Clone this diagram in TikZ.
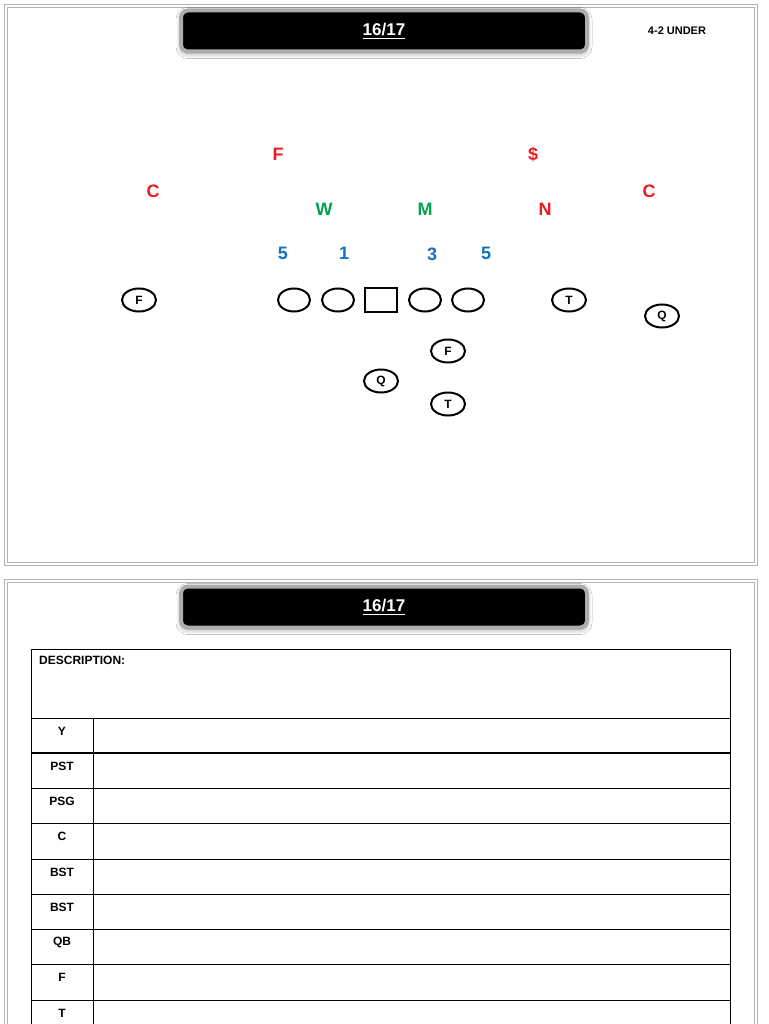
\documentclass[tikz,border=0pt]{standalone}
\usepackage{fontspec}
\setmainfont{Liberation Sans}
\usetikzlibrary{positioning,shapes.geometric,shadows.blur}
\definecolor{dred}{RGB}{236,28,36}
\definecolor{dgreen}{RGB}{0,163,80}
\definecolor{dblue}{RGB}{20,112,192}
\tikzset{
	panel/.style={draw=gray!60, double, double distance=1.5pt, line width=1.1pt},
	header/.style={fill=black, draw=gray!65, line width=4pt, rounded corners=7pt,
			minimum width=406, minimum height=41, text=white,
			font=\bfseries\fontsize{17}{17}\selectfont,
			blur shadow={shadow xshift=0pt, shadow yshift=-2pt, shadow blur steps=8, shadow blur radius=5pt}},
	defense/.style={font=\bfseries\fontsize{18}{18}\selectfont, inner sep=0pt},
	lineman/.style={ellipse, draw, line width=2pt, minimum width=32, minimum height=23, inner sep=0pt},
	back/.style={ellipse, draw, line width=2pt, minimum width=34, minimum height=23, inner sep=0pt,
			font=\bfseries\fontsize{12}{12}\selectfont},
	rowlabel/.style={font=\bfseries\fontsize{12}{12}\selectfont, inner sep=0pt}
}

\begin{document}
\begin{tikzpicture}[x=1pt, y=-1pt]
	\useasboundingbox[fill=white] (0,0) rectangle (768,1024);

	% top panel
	\draw[panel] (6,6) rectangle (756,564);
	\node[header] (title1) at (384,31) {\underline{16/17}};
	\node[font=\bfseries\fontsize{11}{11}\selectfont] (front) at (677,31) {4-2 UNDER};

	\node[defense, text=dred] (fs) at (278,154) {F};
	\node[defense, text=dred] (ss) at (533,154) {\$};
	\node[defense, text=dred] (lc) at (153,191) {C};
	\node[defense, text=dred] (rc) at (649,191) {C};
	\node[defense, text=dred] (nb) at (545,209) {N};
	\node[defense, text=dgreen] (wl) at (324,209) {W};
	\node[defense, text=dgreen] (ml) at (425,209) {M};
	\node[defense, text=dblue] (le) at (283,253) {5};
	\node[defense, text=dblue] (lt) at (344,253) {1};
	\node[defense, text=dblue] (rt) at (432,254) {3};
	\node[defense, text=dblue] (re) at (486,253) {5};

	\node[lineman] (lot) at (294,300) {};
	\node[lineman] (log) at (338,300) {};
	\node[draw, line width=2pt, minimum width=32, minimum height=24, inner sep=0pt] (ctr) at (381,300) {};
	\node[lineman] (rog) at (425,300) {};
	\node[lineman] (rot) at (468,300) {};

	\node[back] (wrf) at (139,300) {F};
	\node[back] (wrt) at (569,300) {T};
	\node[back] (wrq) at (662,316) {Q};
	\node[back] (bkf) at (448,351) {F};
	\node[back] (qb) at (381,381) {Q};
	\node[back] (bkt) at (448,404) {T};

	% bottom panel
	\draw[panel] (6,581) rectangle (756,1040);
	\node[header] (title2) at (384,607) {\underline{16/17}};
	\draw[line width=1pt] (31,649) rectangle (730,1040);
	\node[rowlabel, anchor=north west] (desc) at (39,656) {DESCRIPTION:};
	\draw[line width=1pt] (93,718) -- (93,1040);
	\foreach \lab [count=\i from 0] in {Y,PST,PSG,C,BST,BST,QB,F,T} {
		\draw[line width=1pt] (31,718+\i*35.25) -- (730,718+\i*35.25);
		\node[rowlabel] (row\i) at (62,731+\i*35.25) {\lab};
	}
	\draw[line width=2pt] (31,753.25) -- (730,753.25);
\end{tikzpicture}
\end{document}
